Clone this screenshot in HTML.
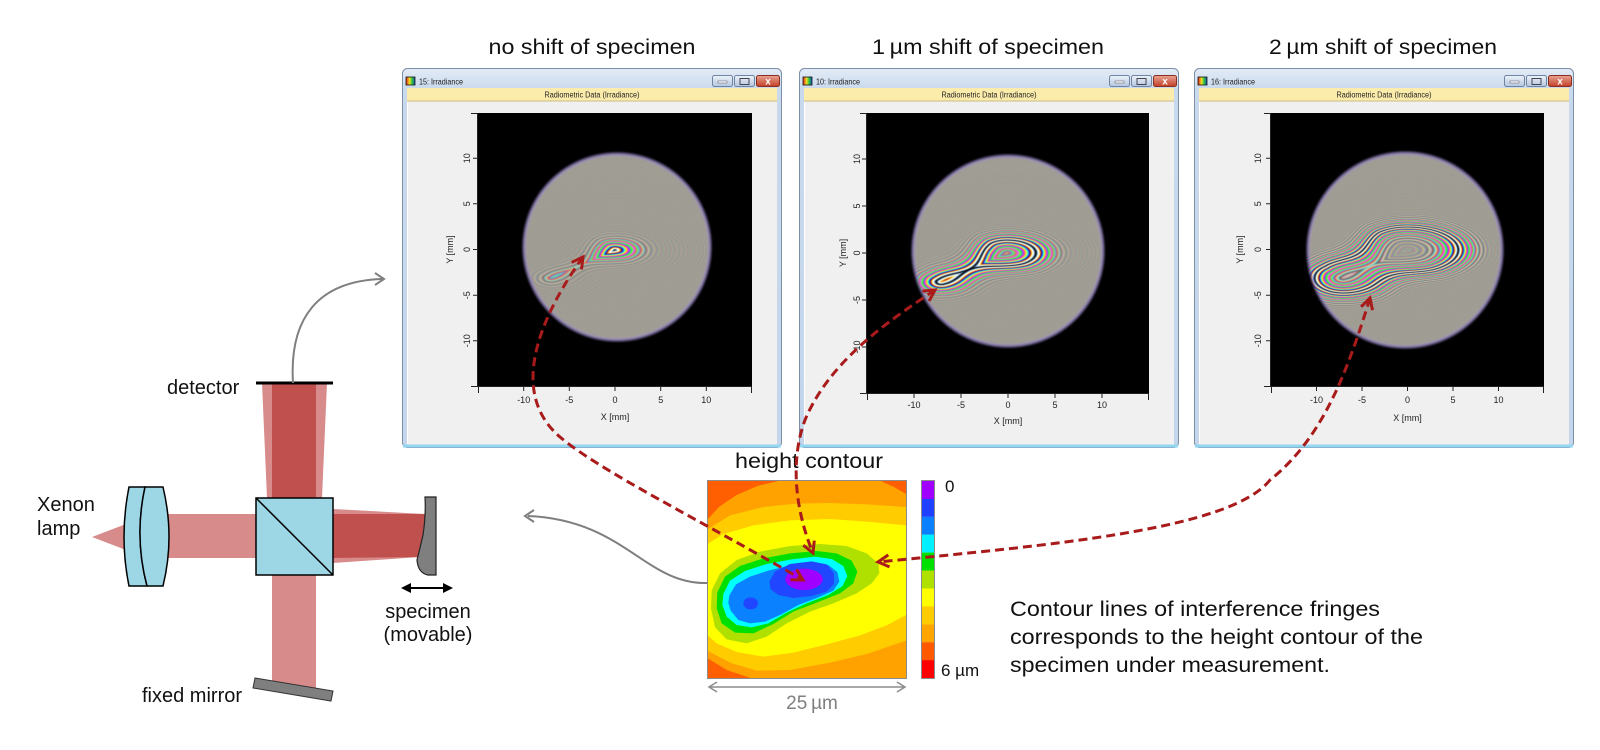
<!DOCTYPE html>
<html><head><meta charset="utf-8">
<style>
html,body{margin:0;padding:0;background:#fff;overflow:hidden;}
#wrap{position:relative;width:1600px;height:750px;overflow:hidden;background:#fff;}
svg{position:absolute;left:0;top:0;}
canvas{position:absolute;display:block;}
</style></head><body><div id="wrap">
<svg width="1600" height="750" viewBox="0 0 1600 750" xmlns="http://www.w3.org/2000/svg" font-family="'Liberation Sans', Arial, sans-serif">
<defs>
 <linearGradient id="fr" x1="0" y1="0" x2="0" y2="1">
  <stop offset="0" stop-color="#e3ecf7"/><stop offset="0.055" stop-color="#c9d9ed"/><stop offset="1" stop-color="#c3d6ec"/>
 </linearGradient>
 <linearGradient id="bt" x1="0" y1="0" x2="0" y2="1"><stop offset="0" stop-color="#eef3fa"/><stop offset="1" stop-color="#b3c6de"/></linearGradient>
 <linearGradient id="cl" x1="0" y1="0" x2="0" y2="1"><stop offset="0" stop-color="#e9a493"/><stop offset="1" stop-color="#c23f27"/></linearGradient>
 <linearGradient id="ic" x1="0" y1="0" x2="1" y2="0"><stop offset="0" stop-color="#e02020"/><stop offset="0.4" stop-color="#f0e020"/><stop offset="0.7" stop-color="#20c040"/><stop offset="1" stop-color="#2040d0"/></linearGradient>
 <clipPath id="mapclip"><rect x="708" y="481" width="198" height="197"/></clipPath>
 <g id="chrome">
  <rect x="0.5" y="68.5" width="379" height="379" rx="5" fill="url(#fr)" stroke="#7d90a8"/>
  <rect x="1" y="444.5" width="378" height="3" fill="#93d6f0"/>
  <rect x="4" y="77" width="9" height="8" fill="url(#ic)" stroke="#111" stroke-width="0.8"/>
  <rect x="310.5" y="75.5" width="20" height="11" rx="2" fill="url(#bt)" stroke="#6f84a0"/>
  <rect x="316" y="81" width="9" height="2" fill="#fff" stroke="#556" stroke-width="0.5"/>
  <rect x="332.5" y="75.5" width="20" height="11" rx="2" fill="url(#bt)" stroke="#6f84a0"/>
  <rect x="338" y="78.5" width="9" height="6" fill="none" stroke="#445" stroke-width="1"/>
  <rect x="354.5" y="75.5" width="23" height="11" rx="2" fill="url(#cl)" stroke="#8a3020"/>
  <text x="366" y="84.5" font-size="10" font-weight="bold" fill="#fff" text-anchor="middle">x</text>
  <rect x="5" y="88" width="370" height="13" fill="#fcecab"/>
  <line x1="5" y1="101" x2="375" y2="101" stroke="#cbbd86"/>
  <text x="190" y="97.5" font-size="8" fill="#222" text-anchor="middle" textLength="95" lengthAdjust="spacingAndGlyphs">Radiometric Data (Irradiance)</text>
  <rect x="5" y="101.5" width="370" height="343" fill="#f0f0f0"/>
  <line x1="5.5" y1="102" x2="5.5" y2="444" stroke="#ffffff"/>
 </g>
</defs>

<!-- titles -->
<g font-size="21" fill="#111" text-anchor="middle">
 <text x="592" y="54" textLength="207" lengthAdjust="spacingAndGlyphs">no shift of specimen</text>
 <text x="988" y="54" textLength="232" lengthAdjust="spacingAndGlyphs">1&#8201;µm shift of specimen</text>
 <text x="1383" y="54" textLength="228" lengthAdjust="spacingAndGlyphs">2&#8201;µm shift of specimen</text>
</g>

<!-- windows chrome -->
<use href="#chrome" x="402" y="0"/>
<use href="#chrome" x="799" y="0"/>
<use href="#chrome" x="1194" y="0"/>
<g font-size="8.5" fill="#1a1a1a">
 <text x="419" y="84.5" textLength="44" lengthAdjust="spacingAndGlyphs">15: Irradiance</text>
 <text x="816" y="84.5" textLength="44" lengthAdjust="spacingAndGlyphs">10: Irradiance</text>
 <text x="1211" y="84.5" textLength="44" lengthAdjust="spacingAndGlyphs">16: Irradiance</text>
</g>

<!-- plot 1 -->
<rect x="478" y="113" width="274" height="273" fill="#000"/>
<circle cx="617" cy="247" r="93" fill="#a09d93"/>
<path fill="none" stroke="#222" d="M477.5 113V386.5H752M471 113.5H478M471 386.5H478M478.5 387V393M751.5 387V393M473 158.2H478M473 203.8H478M473 249.5H478M473 295.2H478M473 340.8H478M523.7 387V391M569.3 387V391M615 387V391M660.7 387V391M706.3 387V391"/>
<g font-size="9" fill="#222" text-anchor="middle">
 <text x="523.7" y="403">-10</text><text x="569.3" y="403">-5</text><text x="615" y="403">0</text><text x="660.7" y="403">5</text><text x="706.3" y="403">10</text>
 <text x="615" y="420">X [mm]</text>
 <text transform="translate(470,158.2) rotate(-90)">10</text>
 <text transform="translate(470,203.8) rotate(-90)">5</text>
 <text transform="translate(470,249.5) rotate(-90)">0</text>
 <text transform="translate(470,295.2) rotate(-90)">-5</text>
 <text transform="translate(470,340.8) rotate(-90)">-10</text>
 <text transform="translate(453,249.5) rotate(-90)">Y [mm]</text>
</g>

<!-- plot 2 -->
<rect x="867" y="113" width="282" height="280" fill="#000"/>
<circle cx="1008" cy="251" r="95" fill="#a09d93"/>
<path fill="none" stroke="#222" d="M866.5 113V393.5H1149M860 113.5H867M860 393.5H867M867.5 394V400M1148.5 394V400M862 159H867M862 206H867M862 253H867M862 300H867M862 347H867M914 394V398M961 394V398M1008 394V398M1055 394V398M1102 394V398"/>
<g font-size="9" fill="#222" text-anchor="middle">
 <text x="914" y="408">-10</text><text x="961" y="408">-5</text><text x="1008" y="408">0</text><text x="1055" y="408">5</text><text x="1102" y="408">10</text>
 <text x="1008" y="424">X [mm]</text>
 <text transform="translate(860,159) rotate(-90)">10</text>
 <text transform="translate(860,206) rotate(-90)">5</text>
 <text transform="translate(860,253) rotate(-90)">0</text>
 <text transform="translate(860,300) rotate(-90)">-5</text>
 <text transform="translate(860,347) rotate(-90)">-10</text>
 <text transform="translate(846,253) rotate(-90)">Y [mm]</text>
</g>

<!-- plot 3 -->
<rect x="1271" y="113" width="273" height="273" fill="#000"/>
<circle cx="1405" cy="250" r="97" fill="#a09d93"/>
<path fill="none" stroke="#222" d="M1270.5 113V386.5H1544M1264 113.5H1271M1264 386.5H1271M1271.5 387V393M1543.5 387V393M1266 158.2H1271M1266 203.8H1271M1266 249.5H1271M1266 295.2H1271M1266 340.8H1271M1316.5 387V391M1362 387V391M1407.5 387V391M1453 387V391M1498.5 387V391"/>
<g font-size="9" fill="#222" text-anchor="middle">
 <text x="1316.5" y="403">-10</text><text x="1362" y="403">-5</text><text x="1407.5" y="403">0</text><text x="1453" y="403">5</text><text x="1498.5" y="403">10</text>
 <text x="1407.5" y="421">X [mm]</text>
 <text transform="translate(1261,158.2) rotate(-90)">10</text>
 <text transform="translate(1261,203.8) rotate(-90)">5</text>
 <text transform="translate(1261,249.5) rotate(-90)">0</text>
 <text transform="translate(1261,295.2) rotate(-90)">-5</text>
 <text transform="translate(1261,340.8) rotate(-90)">-10</text>
 <text transform="translate(1243,249.5) rotate(-90)">Y [mm]</text>
</g>

<!-- optical setup -->
<polygon points="262,383 327,383 322,498 267,498" fill="#d78b8b"/>
<rect x="272" y="383" width="44" height="115" fill="#c0504d"/>
<line x1="256" y1="383" x2="333" y2="383" stroke="#000" stroke-width="3"/>
<rect x="160" y="514" width="96" height="44" fill="#d78b8b"/>
<polygon points="92,537 126,524 126,550" fill="#d78b8b"/>
<polygon points="333,509 425,514 420,557 333,563" fill="#d78b8b"/>
<polygon points="333,514 425,514 420,557 333,558" fill="#c0504d"/>
<polygon points="272,575 316,575 316,688 272,681" fill="#d78b8b"/>
<path d="M129 487 L145 487 Q134 537 147 586 L129 586 Q119 537 129 487 Z" fill="#9dd6e4" stroke="#000" stroke-width="1.5"/>
<path d="M145 487 L163 487 Q175 537 163 586 L147 586 Q134 537 145 487 Z" fill="#9dd6e4" stroke="#000" stroke-width="1.5"/>
<rect x="256" y="498" width="77" height="77" fill="#9dd6e4" stroke="#000" stroke-width="1.5"/>
<line x1="256" y1="498" x2="333" y2="575" stroke="#000" stroke-width="1.5"/>
<path d="M425 497 H436 V575 H428 Q418 573 417 560 Q420 548 423 535 Q426 515 425 497 Z" fill="#7f7f7f" stroke="#222" stroke-width="1.2"/>
<line x1="408" y1="588" x2="446" y2="588" stroke="#000" stroke-width="2"/>
<polygon points="401,588 411,583 411,593" fill="#000"/>
<polygon points="453,588 443,583 443,593" fill="#000"/>
<polygon points="255,678 333,691 331,701 253,688" fill="#7f7f7f" stroke="#333" stroke-width="1"/>
<g font-size="20" fill="#111">
 <text x="167" y="394">detector</text>
 <text x="37" y="511">Xenon</text>
 <text x="37" y="535">lamp</text>
 <text x="428" y="618" text-anchor="middle">specimen</text>
 <text x="428" y="641" text-anchor="middle">(movable)</text>
 <text x="142" y="702">fixed mirror</text>
</g>

<!-- gray arrows -->
<g fill="none" stroke="#7f7f7f" stroke-width="2">
 <path d="M293 383 C289 318 318 281 382 279"/>
 <path d="M375 273 L384 279 L375 285"/>
 <path d="M708 583 C645 585 625 520 528 516"/>
 <path d="M534 510 L525 516 L534 522"/>
</g>

<!-- height contour map -->
<text x="809" y="468" font-size="21" fill="#111" text-anchor="middle" textLength="148" lengthAdjust="spacingAndGlyphs">height contour</text>
<g clip-path="url(#mapclip)">
 <g transform="translate(680 440) scale(0.333333)">
  <rect x="83" y="122" width="595" height="593" fill="#ff5f00"/>
  <path fill="#ffa200" d="M300 122 L600 122 L640 140 L678 162 L678 715 L215 715 L140 690 L83 655 L83 238 L118 200 L170 165 L235 137 Z"/>
  <path fill="#ffcc00" d="M83 268 L150 226 L250 201 L350 191 L450 189 L560 193 L678 201 L678 602 L560 642 L450 668 L330 690 L230 692 L150 668 L83 632 Z"/>
  <path fill="#ffff00" d="M83 312 L130 282 L220 256 L330 241 L450 237 L560 245 L678 256 L678 525 L620 556 L540 586 L440 613 L340 638 L250 650 L170 636 L110 610 L83 586 Z"/>
  <path fill="#b0e000" d="M95 452 L120 400 L170 360 L240 335 L330 318 L420 312 L500 318 L560 340 L595 370 L598 400 L575 430 L530 460 L460 490 L390 515 L320 550 L260 590 L200 610 L140 598 L105 562 L93 505 Z"/>
  <path fill="#00e000" d="M112 457 L135 410 L180 378 L250 355 L330 340 L410 333 L470 340 L515 362 L532 395 L520 430 L480 460 L410 488 L340 515 L280 552 L220 580 L165 578 L125 550 L110 505 Z"/>
  <path fill="#00ffff" d="M130 462 L150 422 L195 393 L260 372 L335 358 L405 350 L455 357 L490 378 L502 408 L488 438 L445 465 L380 490 L320 518 L265 550 L215 562 L170 555 L140 530 L127 495 Z"/>
  <path fill="#0a82ff" d="M148 466 L168 433 L210 410 L265 392 L330 376 L400 368 L445 375 L472 396 L478 425 L460 452 L415 472 L355 495 L300 525 L255 545 L210 550 L175 540 L152 512 L145 488 Z"/>
  <path fill="#2046ff" d="M268 425 L285 395 L330 372 L395 364 L440 373 L462 400 L462 432 L440 455 L395 468 L340 474 L295 465 L272 448 Z"/>
  <ellipse cx="212" cy="490" rx="22" ry="18" fill="#2046ff"/>
  <ellipse cx="372" cy="418" rx="56" ry="32" fill="#a000ff"/>
 </g>
</g>
<rect x="707.5" y="480.5" width="199" height="198" fill="none" stroke="#8c8c8c"/>
<g>
 <rect x="922" y="481" width="12" height="18" fill="#a000ff"/>
 <rect x="922" y="498.9" width="12" height="18" fill="#2040ff"/>
 <rect x="922" y="516.8" width="12" height="18" fill="#0a80ff"/>
 <rect x="922" y="534.7" width="12" height="18" fill="#00f0ff"/>
 <rect x="922" y="552.6" width="12" height="18" fill="#00e000"/>
 <rect x="922" y="570.5" width="12" height="18" fill="#b0e000"/>
 <rect x="922" y="588.5" width="12" height="18" fill="#ffff00"/>
 <rect x="922" y="606.4" width="12" height="18" fill="#ffcc00"/>
 <rect x="922" y="624.3" width="12" height="18" fill="#ffa500"/>
 <rect x="922" y="642.2" width="12" height="18" fill="#ff5a00"/>
 <rect x="922" y="660.1" width="12" height="17.9" fill="#ff0000"/>
 <rect x="921.5" y="480.5" width="13" height="198" fill="none" stroke="#8c8c8c"/>
</g>
<g font-size="17" fill="#111">
 <text x="945" y="492">0</text>
 <text x="941" y="676">6 µm</text>
</g>
<g fill="none" stroke="#8c8c8c" stroke-width="1.5">
 <line x1="710" y1="687" x2="904" y2="687"/>
 <path d="M717 682 L709 687 L717 692"/>
 <path d="M897 682 L905 687 L897 692"/>
</g>
<text x="812" y="709" font-size="19" fill="#7f7f7f" text-anchor="middle">25&#8201;µm</text>

<!-- explanation text -->
<g font-size="21" fill="#111">
 <text x="1010" y="616" textLength="370" lengthAdjust="spacingAndGlyphs">Contour lines of interference fringes</text>
 <text x="1010" y="644" textLength="413" lengthAdjust="spacingAndGlyphs">corresponds to the height contour of the</text>
 <text x="1010" y="672" textLength="320" lengthAdjust="spacingAndGlyphs">specimen under measurement.</text>
</g>
</svg>

<canvas id="c1" width="274" height="273" style="left:478px;top:113px"></canvas>
<canvas id="c2" width="282" height="280" style="left:867px;top:113px"></canvas>
<canvas id="c3" width="273" height="273" style="left:1271px;top:113px"></canvas>

<svg width="1600" height="750" viewBox="0 0 1600 750" xmlns="http://www.w3.org/2000/svg" style="pointer-events:none">
<g fill="none" stroke="#a91b1b" stroke-width="3">
 <path stroke-dasharray="9 5" d="M583 257 C545 310 505 390 560 437 C600 471 700 520 803 580"/>
 <path d="M571.7 262.4 L583 257 L581.5 269.4"/>
 <path d="M796.5 569.3 L803 580 L790.5 579.7"/>
 <path stroke-dasharray="9 5" d="M935 290 C890 320 830 360 805 420 C790 460 795 510 813 553"/>
 <path d="M922.5 291.1 L935 290 L929.1 301.1"/>
 <path d="M803.3 545.2 L813 553 L814.3 540.6"/>
 <path stroke-dasharray="9 5" d="M1370 298 C1345 380 1320 440 1270 480 C1230 530 1050 545 878 562"/>
 <path d="M1361.1 306.8 L1370 298 L1372.5 310.2"/>
 <path d="M888.3 554.9 L878 562 L889.5 566.9"/>
</g>
</svg>
</div>
<script>
(function(){
var bg=[160,157,148],lam=[1.2,1.0,0.83],ax=1.9;
var sx=-64/ax,sy=28,ss=sx*sx+sy*sy;
function sample(x,y,o,out){
  var px=(x-o.mx)/o.k/ax,py=(y-o.my)/o.k;
  var t=(px*sx+py*sy)/ss; if(t<0)t=0; if(t>1)t=1;
  var qx=px-t*sx,qy=py-t*sy;
  if(qx>0)qx*=0.85;
  var f=Math.sqrt(qx*qx+qy*qy);
  var sn=Math.sin(Math.PI*t);
  var h=0.3*f+0.004*f*f+3.6*t+2.4*sn*sn;
  var dh=h-o.s;
  var slope=0.3+0.008*f;
  var fl=0.045*Math.min(1,0.45/slope);
  var q=dh/o.w;
  var env=0.96*Math.exp(-q*q)+fl;
  for(var k=0;k<3;k++){
    var v=bg[k]*(1-env*Math.cos(2*Math.PI*dh/lam[k]));
    if(v>255)v=255; if(v<0)v=0;
    out[k]+=v;
  }
}
function render(id,o){
 var cv=document.getElementById(id); if(!cv||!cv.getContext)return;
 var W=cv.width,H=cv.height,ctx=cv.getContext('2d');
 var im=ctx.createImageData(W,H),d=im.data;
 var acc=[0,0,0];
 for(var y=0;y<H;y++){for(var x=0;x<W;x++){
  var i=(y*W+x)*4;
  var ex=x+0.5-o.dx,ey=y+0.5-o.dy,r=Math.sqrt(ex*ex+ey*ey);
  var m=(o.R-r)/7+0.5; if(m<0)m=0; if(m>1)m=1; m=m*m*(3-2*m);
  var R=0,G=0,B=0;
  if(m>0){
   acc[0]=0;acc[1]=0;acc[2]=0;
   sample(x+0.25,y+0.25,o,acc);sample(x+0.75,y+0.25,o,acc);
   sample(x+0.25,y+0.75,o,acc);sample(x+0.75,y+0.75,o,acc);
   var hal=4*m*(1-m);
   R=acc[0]/4*m+45*hal; G=acc[1]/4*m+35*hal; B=acc[2]/4*m+80*hal;
  }
  d[i]=R; d[i+1]=G; d[i+2]=B; d[i+3]=255;
 }}
 ctx.putImageData(im,0,0);
}
try{
 render('c1',{mx:137,my:137,dx:139,dy:134,R:93,k:1,s:0,w:3.8});
 render('c2',{mx:140,my:140,dx:141,dy:138,R:95,k:1.03,s:4.4,w:3.6});
 render('c3',{mx:136,my:137,dx:134,dy:137,R:97,k:1,s:9,w:4.6});
}catch(e){}
})();
</script>
</body></html>
